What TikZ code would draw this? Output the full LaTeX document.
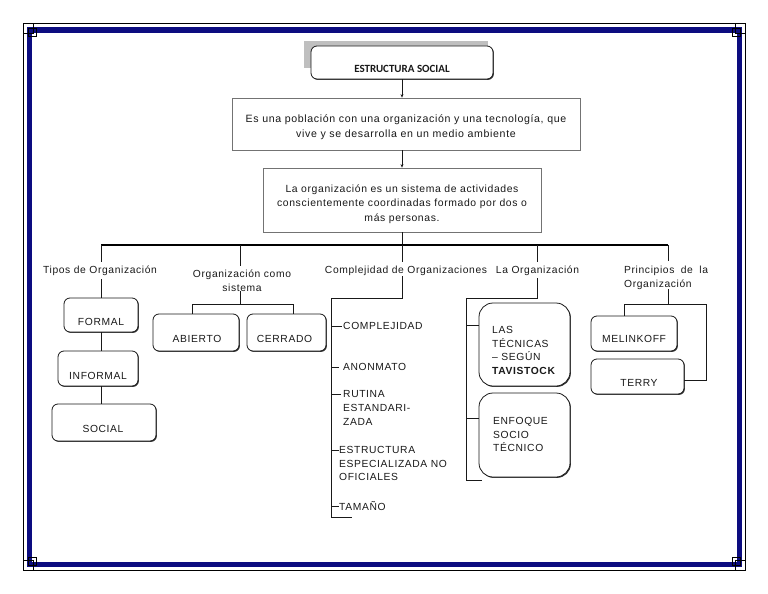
\documentclass[tikz,border=0pt]{standalone}
\usepackage{fontspec}
\setmainfont{Liberation Sans}[LetterSpace=6]
\newfontfamily\headfont{Carlito}
\usetikzlibrary{shadows,arrows.meta}
\definecolor{navy}{RGB}{12,12,128}
\begin{document}
\begin{tikzpicture}[x=1pt,y=-1pt,
  txt/.style={inner sep=0pt, font=\fontsize{10.3}{13.8}\selectfont, text=black!90},
  cbox/.style={draw=black!90, line width=0.8pt, fill=white, rounded corners=6pt, inner sep=0pt,
    drop shadow={shadow xshift=0.9pt, shadow yshift=-0.9pt, opacity=1, fill=black!80}},
  pbox/.style={draw=black!55, line width=0.8pt, fill=white, inner sep=0pt},
  con/.style={draw=black!90, line width=0.8pt},
  busline/.style={draw=black, line width=1.6pt},
  arr/.style={con, -{Stealth[length=3.5pt,width=3pt]}},
]
\useasboundingbox (0,0) rectangle (768,594);
% page border
\draw[black, line width=0.7pt] (23,23) rectangle (745,570);
\draw[navy, line width=5.5pt] (29.5,30) rectangle (739.5,564.5);
\foreach \cx/\cy/\sx/\sy in {23/23/1/1, 745/23/-1/1, 23/570/1/-1, 745/570/-1/-1}{
  \draw[black, line width=0.5pt] (\cx,\cy) rectangle ++(10*\sx,10*\sy);
  \draw[black, line width=0.5pt] (\cx+5*\sx,\cy+5*\sy) rectangle ++(8*\sx,8*\sy);
}
% top boxes
\node[fill=black!25, minimum width=184pt, minimum height=27pt, inner sep=0pt] (esshadow) at (396,54.5) {};
\node[cbox, minimum width=182pt, minimum height=33pt] (es) at (402,62.5) {};
\node[inner sep=0pt, font=\headfont\bfseries\fontsize{11}{12}\selectfont, text=black!90] (esT) at (402,69) {ESTRUCTURA SOCIAL};
\node[pbox, minimum width=348pt, minimum height=52pt] (b2) at (406,124) {};
\node[txt, align=center, font=\fontsize{10.6}{14.5}\selectfont] (b2T) at (406,127) {Es una población con una organización y una tecnología, que\\vive y se desarrolla en un medio ambiente};
\node[pbox, minimum width=278pt, minimum height=64pt] (b3) at (402,200) {};
\node[txt, align=center, font=\fontsize{10.4}{14.5}\selectfont] (b3T) at (402,204) {La organización es un sistema de actividades\\conscientemente coordinadas formado por dos o\\más personas.};
\draw[arr] (es.south) -- (es.south |- b2.north);
\draw[arr] (es.south |- b2.south) -- (es.south |- b3.north);
% bus
\coordinate (busL) at (101,245);
\coordinate (busR) at (668,245);
\coordinate (comoX) at (240,245);
\coordinate (loX) at (537,245);
\draw[con] (b3.south) -- (b3.south |- busL);
\draw[busline] (busL) -- (busR);
% labels
\node[txt] (tipos) at (100,271) {Tipos de Organización};
\node[txt, align=center] (como) at (242,280.5) {Organización como\\sistema};
\node[txt] (cj) at (406,271) {Complejidad de Organizaciones};
\node[txt] (lo) at (537.5,271) {La Organización};
\node[txt, align=left, anchor=west] (pr) at (624,277.5) {Principios\hspace{3pt} de\hspace{3pt} la\\Organización};
\draw[con, shorten >=4pt] (busL) -- (busL |- tipos.north);
\draw[con, shorten >=4pt] (comoX) -- (comoX |- como.north);
\draw[con, shorten >=4pt] (b3.south |- busL) -- (b3.south |- cj.north);
\draw[con, shorten >=4pt] (loX) -- (loX |- lo.north);
\draw[con, shorten >=5pt] (busR) -- (busR |- pr.north);
% Tipos de organizacion
\node[cbox, minimum width=74pt, minimum height=34pt] (formal) at (101,315) {};
\node[txt] (formalT) at (101,322) {FORMAL};
\node[cbox, minimum width=80pt, minimum height=35pt] (informal) at (98,368.5) {};
\node[txt] (informalT) at (98,376) {INFORMAL};
\node[cbox, minimum width=104pt, minimum height=37pt] (social) at (104,422.5) {};
\node[txt] (socialT) at (103,429) {SOCIAL};
\draw[con, shorten <=3pt] (tipos.south -| busL) -- (busL |- formal.north);
\draw[con] (busL |- formal.south) -- (busL |- informal.north);
\draw[con] (busL |- informal.south) -- (busL |- social.north);
% Organizacion como sistema
\node[cbox, minimum width=86pt, minimum height=37pt] (ab) at (196,332.5) {};
\node[txt] (abT) at (197,339) {ABIERTO};
\node[cbox, minimum width=79pt, minimum height=37pt] (ce) at (286.5,332.5) {};
\node[txt] (ceT) at (284.5,339) {CERRADO};
\coordinate (comoH) at (240,304);
\coordinate (comoL) at (192,304);
\coordinate (comoR) at (293,304);
\draw[con] (comoX |- como.south) -- (comoH);
\draw[con] (comoL |- ab.north) -- (comoL) -- (comoR) -- (comoR |- ce.north);
% Complejidad
\coordinate (cjTL) at (331,298);
\coordinate (cjB) at (331,517);
\coordinate (cjBR) at (352,517);
\draw[con] (b3.south |- cj.south) -- (b3.south |- cjTL) -- (cjTL) -- (cjB) -- (cjBR);
\node[txt, anchor=west] (i1) at (343,326) {COMPLEJIDAD};
\node[txt, anchor=west] (i2) at (343,367) {ANONMATO};
\node[txt, anchor=west, align=left] (i3) at (343,408) {RUTINA\\ESTANDARI-\\ZADA};
\node[txt, anchor=west, align=left] (i4) at (339,463.5) {ESTRUCTURA\\ESPECIALIZADA NO\\OFICIALES};
\node[txt, anchor=west] (i5) at (339,506) {TAMAÑO};
\coordinate (t1) at (331,326);
\coordinate (t2) at (331,367);
\coordinate (t3) at (331,394);
\coordinate (t4) at (331,450);
\coordinate (t5) at (331,506);
\draw[con, shorten >=1pt] (t1) -- (t1 -| i1.west);
\draw[con, shorten >=4pt] (t2) -- (t2 -| i2.west);
\draw[con, shorten >=2pt] (t3) -- (t3 -| i3.west);
\draw[con] (t4) -- (t4 -| i4.west);
\draw[con] (t5) -- (t5 -| i5.west);
% La Organizacion
\node[cbox, rounded corners=14pt, minimum width=91pt, minimum height=83pt] (tec) at (524.5,344.5) {};
\node[txt, align=left, anchor=west] (tecT) at (492,350.5) {LAS\\TÉCNICAS\\– SEGÚN\\\textbf{TAVISTOCK}};
\node[cbox, rounded corners=14pt, minimum width=91pt, minimum height=84pt] (enf) at (524.5,435) {};
\node[txt, align=left, anchor=west] (enfT) at (493,434.5) {ENFOQUE\\SOCIO\\TÉCNICO};
\coordinate (loTL) at (466,298);
\coordinate (loB) at (466,480);
\coordinate (loBR) at (482,480);
\draw[con, shorten <=2pt] (loX |- lo.south) -- (loX |- loTL) -- (loTL) -- (loB) -- (loBR);
\coordinate (lt1) at (466,325);
\coordinate (lt2) at (466,418);
\draw[con] (lt1) -- (lt1 -| tec.west);
\draw[con] (lt2) -- (lt2 -| enf.west);
% Principios
\node[cbox, minimum width=86pt, minimum height=35pt] (mel) at (634,333.5) {};
\node[txt] (melT) at (634,339) {MELINKOFF};
\node[cbox, minimum width=93pt, minimum height=35pt] (ter) at (637.5,376.5) {};
\node[txt] (terT) at (639,383) {TERRY};
\coordinate (prL) at (624,304);
\coordinate (prR) at (706,304);
\coordinate (prRB) at (706,380);
\draw[con] (busR |- pr.south) -- (busR |- prL);
\draw[con] (prL |- mel.north) -- (prL) -- (prR) -- (prRB) -- (prRB -| ter.east);
\end{tikzpicture}
\end{document}
